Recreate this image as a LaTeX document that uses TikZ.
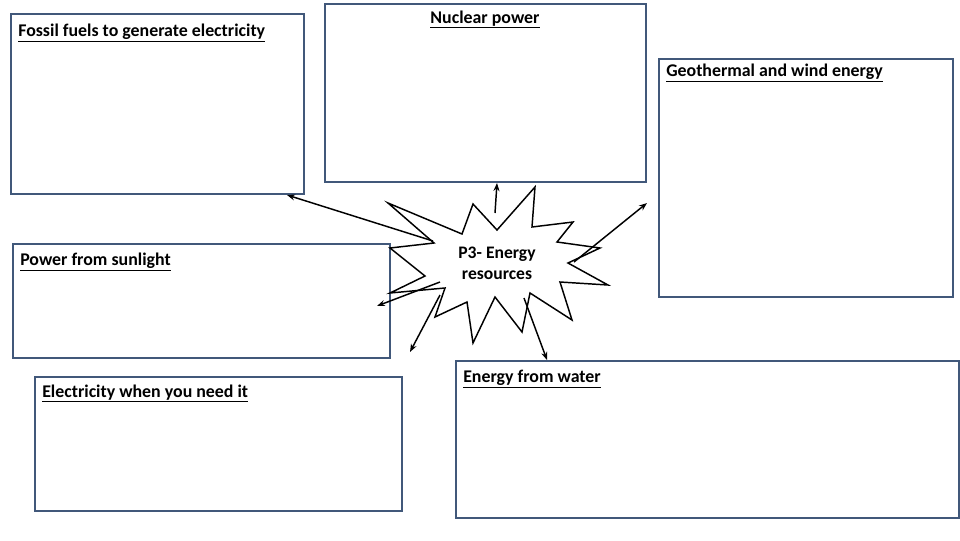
\documentclass[tikz,border=0pt]{standalone}
\usepackage{fontspec}
\setmainfont{Carlito}
\usetikzlibrary{arrows.meta}
\definecolor{boxline}{HTML}{41587A}
\tikzset{
  panel/.style={draw=boxline, line width=1.3pt},
  title/.style={inner sep=0pt, font=\fontsize{13.4pt}{15pt}\selectfont\bfseries},
  conn/.style={line width=1.1pt, -{Stealth[length=6pt,width=4.5pt]}},
}
\begin{document}
\begin{tikzpicture}[x=0.75pt,y=-0.75pt]
\useasboundingbox (0,0) rectangle (960,540);
% boxes
\draw[panel] (11,14) rectangle (304,194);
\draw[panel] (325,4) rectangle (646,182);
\draw[panel] (659,59) rectangle (953,297);
\draw[panel] (13,244) rectangle (390,358);
\draw[panel] (35,377) rectangle (402,511);
\draw[panel] (456,361) rectangle (959,518);
% named anchor points for connectors
\coordinate (fossil) at (287,195);
\coordinate (nuclear) at (497,183);
\coordinate (geo) at (647,203);
\coordinate (sun) at (377,306);
\coordinate (elec) at (410,352);
\coordinate (water) at (547,360);
% labels
\node[title, anchor=base west] (tfossil) at (18,36) {\underline{Fossil fuels to generate electricity}};
\node[title, anchor=base] (tnuclear) at (485,23) {\underline{Nuclear power}};
\node[title, anchor=base west] (tgeo) at (666,76) {\underline{Geothermal and wind energy}};
\node[title, anchor=base west] (tsun) at (20,265) {\underline{Power from sunlight}};
\node[title, anchor=base west] (telec) at (42,397) {\underline{Electricity when you need it}};
\node[title, anchor=base west] (twater) at (463,382) {\underline{Energy from water}};
% star
\draw[line width=1.1pt, fill=white, line join=miter]
 (388,203) -- (462,234) -- (473,204) -- (497,230) -- (535,187) -- (532,227)
 -- (573,222) -- (557,242) -- (600,248) -- (568,263) -- (608,285) -- (560,282)
 -- (572,320) -- (530,293) -- (522,332) -- (495,297) -- (473,343) -- (467,302)
 -- (435,317) -- (445,288) -- (390,293) -- (425,276) -- (390,248) -- (434,243) -- cycle;
\node[title, align=center, font=\fontsize{13.2pt}{15.8pt}\selectfont\bfseries] (center) at (497,263) {P3- Energy\\resources};
% arrow starts
\coordinate (s1) at (433,241);
\coordinate (s2) at (495,213);
\coordinate (s3) at (574,262);
\coordinate (s4) at (440,282);
\coordinate (s5) at (440,295);
\coordinate (s6) at (524,298);
\draw[conn] (s1) -- (fossil);
\draw[conn] (s2) -- (nuclear);
\draw[conn] (s3) -- (geo);
\draw[conn] (s4) -- (sun);
\draw[conn] (s5) -- (elec);
\draw[conn] (s6) -- (water);
\end{tikzpicture}
\end{document}
